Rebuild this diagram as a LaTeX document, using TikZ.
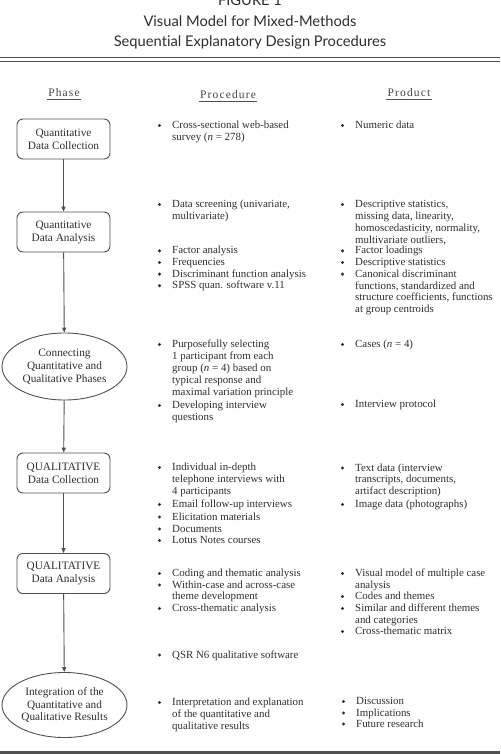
\documentclass[tikz,border=0pt]{standalone}
\usepackage{fontspec}
\setmainfont{Liberation Serif}
\newfontfamily\titlefont[Ligatures={NoCommon}]{Lato}
\newfontfamily\headfont[LetterSpace=10]{Liberation Serif}
\usetikzlibrary{arrows.meta,shapes.geometric,calc}
\definecolor{ink}{HTML}{2E2E2E}
\definecolor{lineink}{HTML}{505050}
\tikzset{
  titletext/.style={anchor=base,inner sep=0,text=ink,font=\titlefont\fontsize{14.7}{20}\selectfont},
  headtext/.style={anchor=base,inner sep=0,text=ink!90,font=\headfont\fontsize{11.5}{13}\selectfont},
  phasebox/.style={draw=lineink,line width=0.9pt,rounded corners=6pt,minimum width=93pt,minimum height=40pt,align=center,inner sep=0,text=ink,font=\fontsize{11.3}{13}\selectfont},
  phaseoval/.style={draw=lineink,line width=0.9pt,ellipse,minimum width=125pt,align=center,inner sep=0,text=ink,font=\fontsize{11.3}{12.7}\selectfont},
  itemtext/.style={anchor=base west,inner sep=0,text=ink,font=\fontsize{10.9}{11.9}\selectfont},
  flow/.style={draw=lineink,line width=0.9pt,-{Triangle[length=5pt,width=4.2pt]}},
  rulepen/.style={draw=lineink,line width=1.1pt},
}
\newcommand\entry[4]{%
  \fill[ink] (#2-12.5,#3-3) circle (1.7);
  \node[itemtext] (#1) at (#2,#3) {\parbox[t]{160pt}{\raggedright #4}};%
}
\begin{document}
\begin{tikzpicture}[x=1pt,y=-1pt]
\useasboundingbox (0,0) rectangle (500,754);
\clip (0,0) rectangle (500,754);
% title
\node[titletext] (fig) at (250,6) {FIGURE 1};
\node[titletext] (t1) at (250,27) {Visual Model for Mixed-Methods};
\node[titletext] (t2) at (250,47) {Sequential Explanatory Design Procedures};
\draw[rulepen] (0,57.7) -- (500,57.7);
\draw[rulepen] (0,61.7) -- (500,61.7);
% headers
\node[headtext] (hphase) at (64,96.5) {Phase};
\node[headtext] (hproc) at (228,98.5) {Procedure};
\node[headtext] (hprod) at (409,96.5) {Product};
\foreach \h in {hphase,hproc,hprod}{
  \draw[lineink,line width=0.8pt] ($(\h.base west)+(-1,2.6)$) -- ($(\h.base east)+(1,2.6)$);
}
% phases
\node[phasebox] (b1) at (63.5,139) {Quantitative\\Data Collection};
\node[phasebox] (b2) at (63.5,232) {Quantitative\\Data Analysis};
\node[phaseoval,minimum height=67pt] (e1) at (64.5,366.5) {Connecting\\Quantitative and\\Qualitative Phases};
\node[phasebox] (b3) at (63.5,473) {QUALITATIVE\\Data Collection};
\node[phasebox] (b4) at (63.5,573.5) {QUALITATIVE\\Data Analysis};
\node[phaseoval,minimum height=65pt] (e2) at (64.5,705) {Integration of the\\Quantitative and\\Qualitative Results};
\draw[flow] (b1) -- (b2);
\draw[flow] (b2) -- (e1);
\draw[flow] (e1) -- (b3);
\draw[flow] (b3) -- (b4);
\draw[flow] (b4) -- (e2);
% procedures
\entry{p1}{172}{128.5}{Cross-sectional web-based\\survey (\textit{n} = 278)}
\entry{p2}{172}{207.5}{Data screening (univariate,\\multivariate)}
\entry{p3}{172}{253.9}{Factor analysis}
\entry{p4}{172}{265.5}{Frequencies}
\entry{p5}{172}{277.1}{Discriminant function analysis}
\entry{p6}{172}{288.7}{SPSS quan. software v.11}
\entry{p7}{172}{347.5}{Purposefully selecting\\1 participant from each\\group (\textit{n} = 4) based on\\typical response and\\maximal variation principle}
\entry{p8}{172}{408.5}{Developing interview\\questions}
\entry{p9}{172}{470.5}{Individual in-depth\\telephone interviews with\\4 participants}
\entry{p10}{172}{507.5}{Email follow-up interviews}
\entry{p11}{172}{520}{Elicitation materials}
\entry{p12}{172}{532}{Documents}
\entry{p13}{172}{543.5}{Lotus Notes courses}
\entry{p14}{172}{576.5}{Coding and thematic analysis}
\entry{p15}{172}{588}{Within-case and across-case\\theme development}
\entry{p16}{172}{611.5}{Cross-thematic analysis}
\entry{p17}{172}{658}{QSR N6 qualitative software}
\entry{p18}{172}{705.5}{Interpretation and explanation\\of the quantitative and\\qualitative results}
% products
\entry{q1}{355}{128.5}{Numeric data}
\entry{q2}{355}{207.5}{Descriptive statistics,\\missing data, linearity,\\homoscedasticity, normality,\\multivariate outliers,}
\entry{q3}{355}{253.9}{Factor loadings}
\entry{q4}{355}{265.5}{Descriptive statistics}
\entry{q5}{355}{277.1}{Canonical discriminant\\functions, standardized and\\structure coefficients, functions\\at group centroids}
\entry{q6}{355}{347.5}{Cases (\textit{n} = 4)}
\entry{q7}{355}{407.5}{Interview protocol}
\entry{q8}{355}{471}{Text data (interview\\transcripts, documents,\\artifact description)}
\entry{q9}{355}{507.5}{Image data (photographs)}
\entry{q10}{355}{576.5}{Visual model of multiple case\\analysis}
\entry{q11}{355}{599.5}{Codes and themes}
\entry{q12}{355}{611.5}{Similar and different themes\\and categories}
\entry{q13}{355}{634.5}{Cross-thematic matrix}
\entry{q14}{356}{704.5}{Discussion}
\entry{q15}{356}{716}{Implications}
\entry{q16}{356}{727}{Future research}
\draw[draw=lineink,line width=2.5pt] (0,752.5) -- (500,752.5);
\end{tikzpicture}
\end{document}
